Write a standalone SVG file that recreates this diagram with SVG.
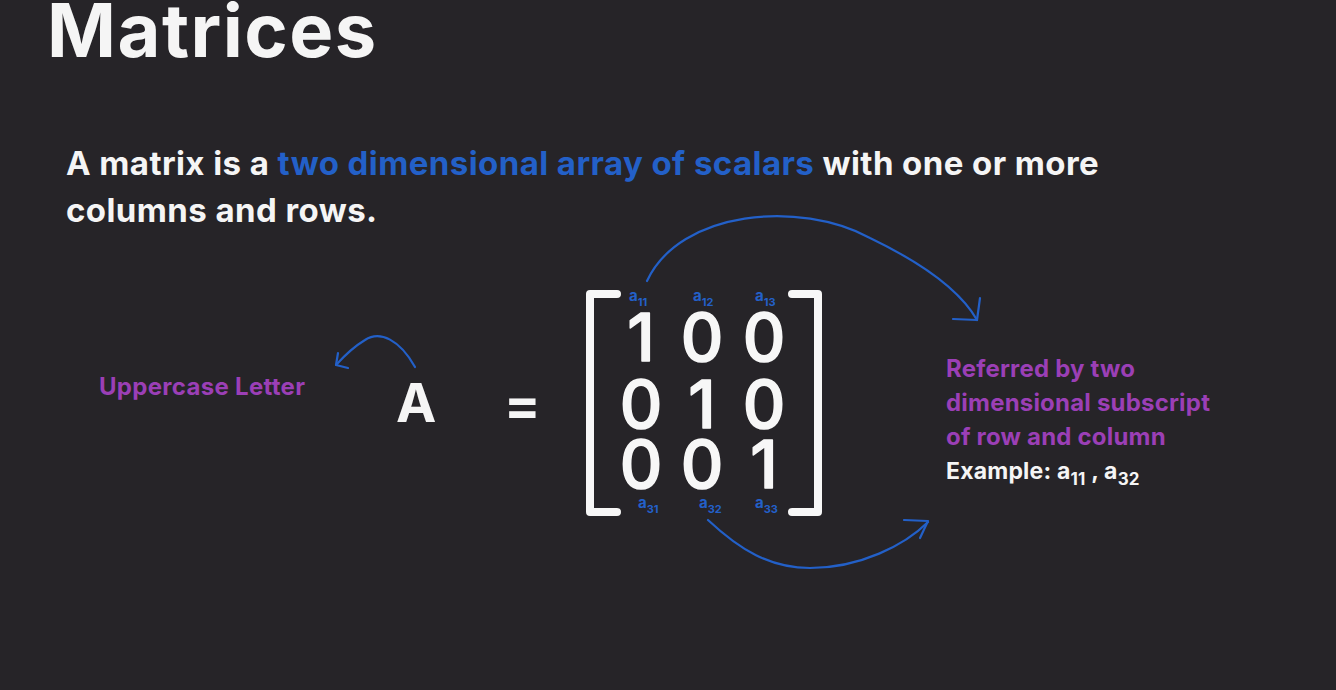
<svg xmlns="http://www.w3.org/2000/svg" width="1336" height="690" viewBox="0 0 1336 690">
<style>
.t{font-family:Inter,"Noto Sans","Liberation Sans",sans-serif;font-weight:700}
.w{fill:#f5f5f5}
.p{fill:#9b3fb6}
.b{fill:#2360c8}
.dig{font-family:Inter,"Noto Sans","Liberation Sans",sans-serif;font-weight:500;font-size:66px;fill:#f7f7f7;stroke:#f7f7f7;stroke-width:1.5;stroke-linejoin:round;text-anchor:middle}
.sub{font-family:Inter,"Noto Sans","Liberation Sans",sans-serif;font-weight:700;fill:#2360c8}
.arc{fill:none;stroke:#2360c8;stroke-width:2.2;stroke-linecap:round;stroke-linejoin:round}
.br{fill:none;stroke:#f7f7f7;stroke-width:8;stroke-linecap:round;stroke-linejoin:round}
</style>
<rect width="1336" height="690" fill="#262428"/>
<g id="title"><text class="t w" x="47" y="57" font-size="74" letter-spacing="1.5">Matrices</text></g>
<g id="intro">
<text class="t w" x="66" y="175" font-size="33" letter-spacing="0.42">A matrix is a <tspan class="b">two dimensional array of scalars</tspan> with one or more</text>
<text class="t w" x="66" y="222" font-size="33" letter-spacing="0.42">columns and rows.</text>
</g>
<g id="label-uppercase"><text class="t p" x="99" y="395" font-size="24" letter-spacing="0.3">Uppercase Letter</text></g>
<g id="letter-A"><text class="t w" x="396" y="422" font-size="54">A</text></g>
<g id="equals"><text class="t w" x="504" y="424" font-size="54">=</text></g>
<g id="matrix">
<path class="br" d="M617,294 H590 V512 H617"/>
<path class="br" d="M792,294 H818 V512 H792"/>
<text class="dig" y="361"><tspan x="641">1</tspan><tspan x="702">0</tspan><tspan x="764">0</tspan></text>
<text class="dig" y="428"><tspan x="641">0</tspan><tspan x="702">1</tspan><tspan x="764">0</tspan></text>
<text class="dig" y="488"><tspan x="641">0</tspan><tspan x="702">0</tspan><tspan x="764">1</tspan></text>
<text class="sub" font-size="15" y="301"><tspan x="629">a</tspan><tspan font-size="11" dy="5">11</tspan></text>
<text class="sub" font-size="15" y="301"><tspan x="693">a</tspan><tspan font-size="11" dy="5">12</tspan></text>
<text class="sub" font-size="15" y="301"><tspan x="755">a</tspan><tspan font-size="11" dy="5">13</tspan></text>
<text class="sub" font-size="15" y="508"><tspan x="638">a</tspan><tspan font-size="11" dy="5">31</tspan></text>
<text class="sub" font-size="15" y="508"><tspan x="699">a</tspan><tspan font-size="11" dy="5">32</tspan></text>
<text class="sub" font-size="15" y="508"><tspan x="755">a</tspan><tspan font-size="11" dy="5">33</tspan></text>
</g>
<g id="label-subscript">
<text class="t p" x="946" y="377" font-size="24" letter-spacing="0.2">Referred by two</text>
<text class="t p" x="946" y="411" font-size="24" letter-spacing="0.2">dimensional subscript</text>
<text class="t p" x="946" y="445" font-size="24" letter-spacing="0.2">of row and column</text>
<text class="t w" x="946" y="479" font-size="23" letter-spacing="0.2">Example: a<tspan font-size="17" dy="6">11</tspan><tspan dy="-6"> , a</tspan><tspan font-size="17" dy="6">32</tspan></text>
</g>
<g id="connectors">
<path class="arc" d="M415,367 C400,340 380,330 365,340 C355,346 345,355 336,365"/>
<path class="arc" d="M338,353 L336,365 L348,368"/>
<path class="arc" d="M647,281 C680,210 800,200 870,238 C920,262 960,290 977,320"/>
<path class="arc" d="M980,298 L977,320 L953,319"/>
<path class="arc" d="M708,520 C740,550 770,568 810,568 C860,568 905,545 928,522"/>
<path class="arc" d="M904,520 L928,521 L920,538"/>
</g>
</svg>
